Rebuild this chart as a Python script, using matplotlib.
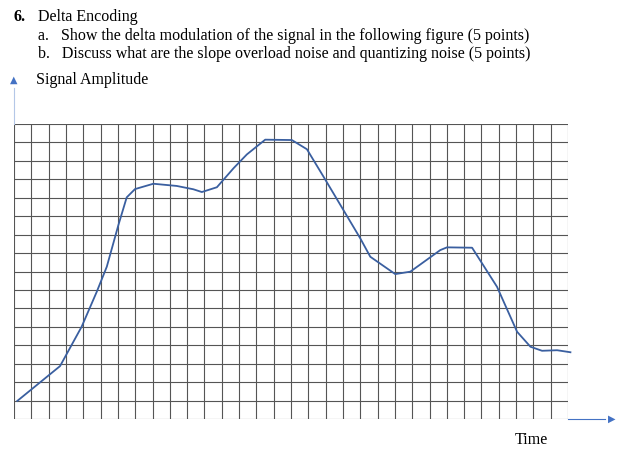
import matplotlib
matplotlib.use("Agg")
import matplotlib.pyplot as plt
import numpy as np

# signal (x in columns, y in rows)
time_pts = [0.19, 2.66, 3.91, 4.78, 5.36, 6.03, 6.51, 6.99, 8.05, 9.40, 10.36, 10.85,
            11.72, 12.68, 13.45, 14.51, 16.05, 16.92, 17.88, 19.03, 20.0, 20.58, 22.02,
            22.89, 24.62, 25.01, 26.46, 27.90, 29.06, 29.83, 30.50, 31.37, 32.14]
amp_pts = [0.98, 2.87, 5.01, 6.90, 8.26, 10.52, 12.02, 12.47, 12.76, 12.64, 12.46, 12.31,
           12.57, 13.60, 14.35, 15.15, 15.13, 14.63, 13.14, 11.33, 9.80, 8.80, 7.86,
           7.99, 9.16, 9.31, 9.29, 7.17, 4.73, 3.92, 3.70, 3.73, 3.62]
N_COLS, N_ROWS = 32, 16

plt.rcParams["font.family"] = "Liberation Serif"
fig = plt.figure(figsize=(6.22, 4.61), dpi=100)
ax = fig.add_axes([14 / 622, 1 - 419 / 461, 554 / 622, 295 / 461])
ax.set_xlim(0, N_COLS)
ax.set_ylim(0, N_ROWS)
for i in range(N_COLS + 1):
    ax.axvline(i, color="#555555", lw=0.8)
for j in range(N_ROWS + 1):
    ax.axhline(j, color="#555555", lw=0.8)
ax.plot(time_pts, amp_pts, color="#3A5FA0", lw=1.3, clip_on=False)
ax.set_xticks([])
ax.set_yticks([])
for s in ax.spines.values():
    s.set_visible(False)

# axis arrows
fig.add_artist(plt.Line2D([568 / 622, 605 / 622], [1 - 419 / 461] * 2, color="#4472C4", lw=0.8))
fig.text(612 / 622, 1 - 419 / 461, "\u25B6", color="#4472C4", fontsize=7,
         ha="center", va="center", family="DejaVu Sans")
fig.add_artist(plt.Line2D([14 / 622] * 2, [1 - 124 / 461, 1 - 88 / 461], color="#B4C7E7", lw=0.8))
fig.text(14 / 622, 1 - 80 / 461, "\u25B2", color="#4472C4", fontsize=7,
         ha="center", va="center", family="DejaVu Sans")

fig.text(13 / 622, 1 - 17 / 461, "6.", fontsize=11.5, fontweight="bold", va="center")
fig.text(38 / 622, 1 - 17 / 461, "Delta Encoding", fontsize=11.5, va="center")
fig.text(38 / 622, 1 - 36 / 461, "a.   Show the delta modulation of the signal in the following figure (5 points)",
         fontsize=11.5, va="center")
fig.text(38 / 622, 1 - 54 / 461, "b.   Discuss what are the slope overload noise and quantizing noise (5 points)",
         fontsize=11.5, va="center")
fig.text(36 / 622, 1 - 80 / 461, "Signal Amplitude", fontsize=11.5, va="center")
fig.text(515 / 622, 1 - 440 / 461, "Time", fontsize=11.5, va="center")

fig.savefig("out.png", dpi=100)
